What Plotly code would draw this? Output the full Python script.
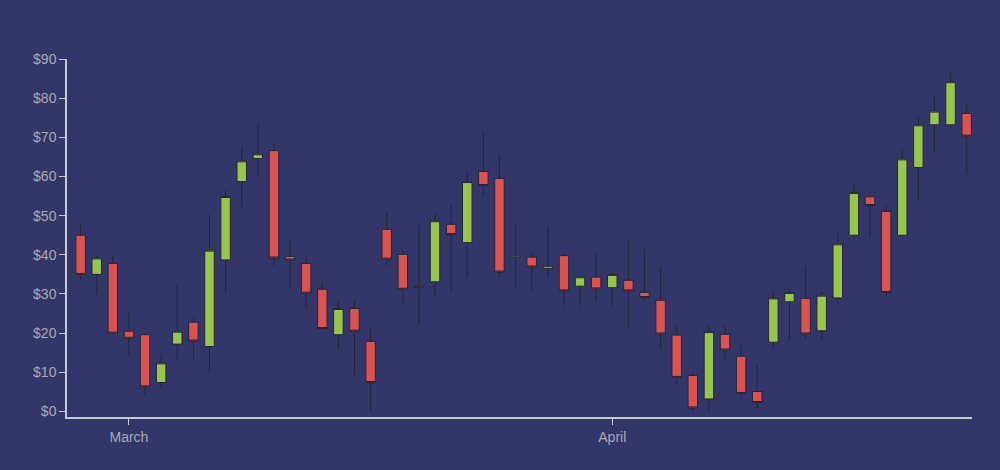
import pandas as pd
import plotly.graph_objects as go

# daily candles, one day missing from the feed in mid-March
DATES = [
    d.strftime("%Y-%m-%d")
    for d in pd.date_range("2018-02-26", "2018-04-23")
    if d != pd.Timestamp("2018-03-18")
]

OPEN = [
    45.0, 35.0, 37.8, 20.5, 19.6, 7.4, 17.2, 22.8, 16.6, 38.7,
    58.7, 64.6, 66.6, 39.6, 37.8, 31.2, 19.6, 26.3, 17.9, 46.5,
    40.1, 32.0, 33.1, 47.8, 43.1, 61.3, 59.5, 39.4, 39.4, 36.5,
    39.8, 32.0, 34.3, 31.6, 33.5, 30.4, 28.4, 19.5, 9.2, 3.2,
    19.7, 14.1, 5.1, 17.7, 28.0, 28.9, 20.6, 29.0, 45.0, 54.8,
    51.1, 45.0, 62.3, 73.2, 73.2, 76.1,
]
HIGH = [
    47.8, 39.9, 39.9, 25.2, 19.7, 14.8, 32.2, 23.9, 50.4, 56.5,
    67.7, 73.5, 68.7, 43.7, 39.6, 33.0, 28.4, 28.4, 21.2, 50.9,
    41.2, 47.5, 50.5, 52.8, 61.3, 71.6, 65.4, 48.2, 40.9, 47.1,
    40.6, 34.6, 40.6, 35.5, 43.5, 41.4, 37.1, 21.9, 10.1, 21.9,
    21.9, 16.8, 11.8, 30.9, 31.3, 37.1, 30.6, 45.5, 58.4, 56.5,
    52.6, 67.1, 75.5, 80.9, 86.3, 78.6,
]
LOW = [
    33.7, 29.9, 19.8, 13.9, 4.3, 5.7, 13.3, 13.3, 9.9, 30.2,
    52.2, 60.0, 37.1, 31.5, 26.3, 20.9, 16.0, 9.4, 0.1, 37.1,
    27.5, 22.2, 29.1, 30.8, 34.1, 54.8, 34.3, 31.8, 30.5, 34.3,
    27.1, 27.1, 28.0, 27.1, 21.1, 28.0, 15.8, 6.9, 0.0, 0.1,
    13.1, 3.2, 0.9, 15.8, 18.2, 18.6, 18.2, 27.1, 44.0, 44.3,
    29.2, 44.9, 53.7, 66.0, 72.4, 60.5,
]
CLOSE = [
    35.0, 39.2, 20.0, 18.7, 6.3, 12.4, 20.5, 18.0, 41.2, 54.9,
    64.0, 65.8, 39.2, 38.7, 30.2, 21.2, 26.3, 20.5, 7.4, 38.9,
    31.2, 31.6, 48.7, 45.2, 58.7, 57.7, 35.6, 39.9, 36.9, 37.2,
    30.8, 34.4, 31.3, 35.0, 30.8, 29.1, 19.8, 8.7, 0.9, 20.4,
    15.7, 4.6, 2.3, 29.0, 30.4, 19.8, 29.7, 42.8, 55.9, 52.6,
    30.4, 64.5, 73.2, 76.7, 84.2, 70.3,
]

MONTH_TICKS = {"2018-03-01": "March", "2018-04-01": "April"}
PRICE_TICKS = [0, 10, 20, 30, 40, 50, 60, 70, 80, 90]
PRICE_LABELS = [f"${v}" for v in PRICE_TICKS]

BG = "#333669"
AXIS = "#c8c8d0"
TEXT = "#a9a9b4"
WICK = "#26263a"


def build_chart() -> go.Figure:
    fig = go.Figure(
        go.Candlestick(
            x=DATES,
            open=OPEN,
            high=HIGH,
            low=LOW,
            close=CLOSE,
            increasing=dict(fillcolor="#98c550", line=dict(color=WICK, width=1)),
            decreasing=dict(fillcolor="#d95350", line=dict(color=WICK, width=1)),
            whiskerwidth=0,
            showlegend=False,
        )
    )

    fig.update_layout(
        width=1000,
        height=470,
        paper_bgcolor=BG,
        plot_bgcolor=BG,
        margin=dict(l=67, r=28, t=59, b=53),
        boxgap=0.16,
        font=dict(family="Liberation Sans, Arial, sans-serif", size=14, color=TEXT),
        xaxis=dict(
            type="category",
            range=[-0.845, 55.33],
            tickmode="array",
            tickvals=list(MONTH_TICKS),
            ticktext=list(MONTH_TICKS.values()),
            ticks="outside",
            ticklen=6,
            tickcolor=AXIS,
            showline=True,
            linecolor=AXIS,
            linewidth=1.5,
            showgrid=False,
            zeroline=False,
            rangeslider=dict(visible=False),
        ),
        yaxis=dict(
            range=[-1.41, 90],
            tickmode="array",
            tickvals=PRICE_TICKS,
            ticktext=PRICE_LABELS,
            ticks="outside",
            ticklen=6,
            tickcolor=AXIS,
            showline=True,
            linecolor=AXIS,
            linewidth=1.5,
            showgrid=False,
            zeroline=False,
        ),
    )
    return fig


fig = build_chart()
fig.write_html(
    "out.html",
    config={"displayModeBar": False},
    post_script="document.body.style.margin = '0';",
)
